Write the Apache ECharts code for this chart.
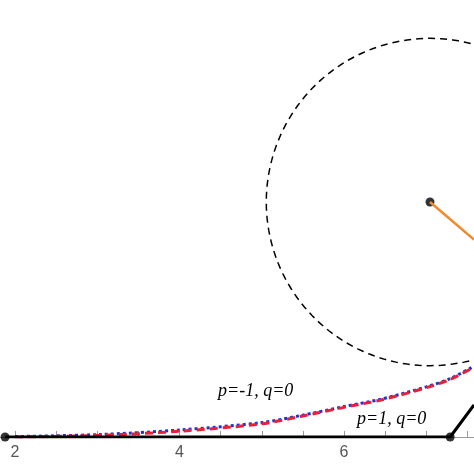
<!DOCTYPE html><html><head><meta charset="utf-8"><script src="https://cdn.jsdelivr.net/npm/echarts@6/dist/echarts.min.js"></script>
<style>html,body{margin:0;padding:0;background:#fff}#c{width:474px;height:474px}</style></head><body><div id="c"></div><script>
const xTickLabels=[2,4,6];
const xTicks=[2,2.5,3,3.5,4,4.5,5,5.5,6,6.5,7,7.5];
const curveX=[2,3.03,4,5,5.47,6,6.45,7,7.29,7.58];
const curveRed=[0,0.02,0.07,0.16,0.25,0.36,0.45,0.60,0.70,0.85];
const curveBlue=[0.005,0.03,0.085,0.175,0.26,0.37,0.46,0.61,0.71,0.86];
const blackPath=[[1.88,0],[7.29,0],[7.58,0.39]];
const dots=[[1.88,0],[7.29,0],[7.045,2.857]];
const center=[7.045,2.857];const radius=[1.99];
const orange=[[7.045,2.857],[7.58,2.40]];
const circle=[];for(let i=0;i<=180;i++){const a=i/180*2*Math.PI;circle.push([center[0]+radius[0]*Math.cos(a),center[1]+radius[0]*Math.sin(a)]);}
const ch=echarts.init(document.getElementById('c'));
ch.setOption({animation:false,
grid:{left:0,right:0,top:0,bottom:37},
xAxis:{type:'value',min:1.818,max:7.58,axisLine:{lineStyle:{color:'#999',width:1}},
 axisTick:{inside:true,length:6,lineStyle:{color:'#999'},customValues:xTicks},
 axisLabel:{customValues:xTickLabels,color:'#555',fontSize:16,margin:8,fontFamily:'Liberation Sans'},splitLine:{show:false}},
yAxis:{type:'value',min:0,max:5.313,show:false},
series:[
{type:'line',data:circle,showSymbol:false,lineStyle:{color:'#000',width:1.5,type:[7,5]},silent:true},
{type:'line',data:orange,showSymbol:false,lineStyle:{color:'#f08a2a',width:2.5}},
{type:'line',data:curveX.map((x,i)=>[x,curveBlue[i]]),smooth:0.3,showSymbol:false,lineStyle:{color:'#2233cc',width:3,type:[3,3]}},
{type:'line',data:curveX.map((x,i)=>[x,curveRed[i]]),smooth:0.3,showSymbol:false,lineStyle:{color:'#e8203a',width:3,type:[8,5]}},
{type:'line',data:blackPath,showSymbol:false,lineStyle:{color:'#000',width:3}},
{type:'scatter',data:dots,symbolSize:9,itemStyle:{color:'#000'}}
],
graphic:[
{type:'text',left:218,top:382,style:{text:'p=-1, q=0',font:'italic 18px "Liberation Serif"',fill:'#000'}},
{type:'text',left:357,top:410,style:{text:'p=1, q=0',font:'italic 18px "Liberation Serif"',fill:'#000'}}
]});
</script></body></html>
